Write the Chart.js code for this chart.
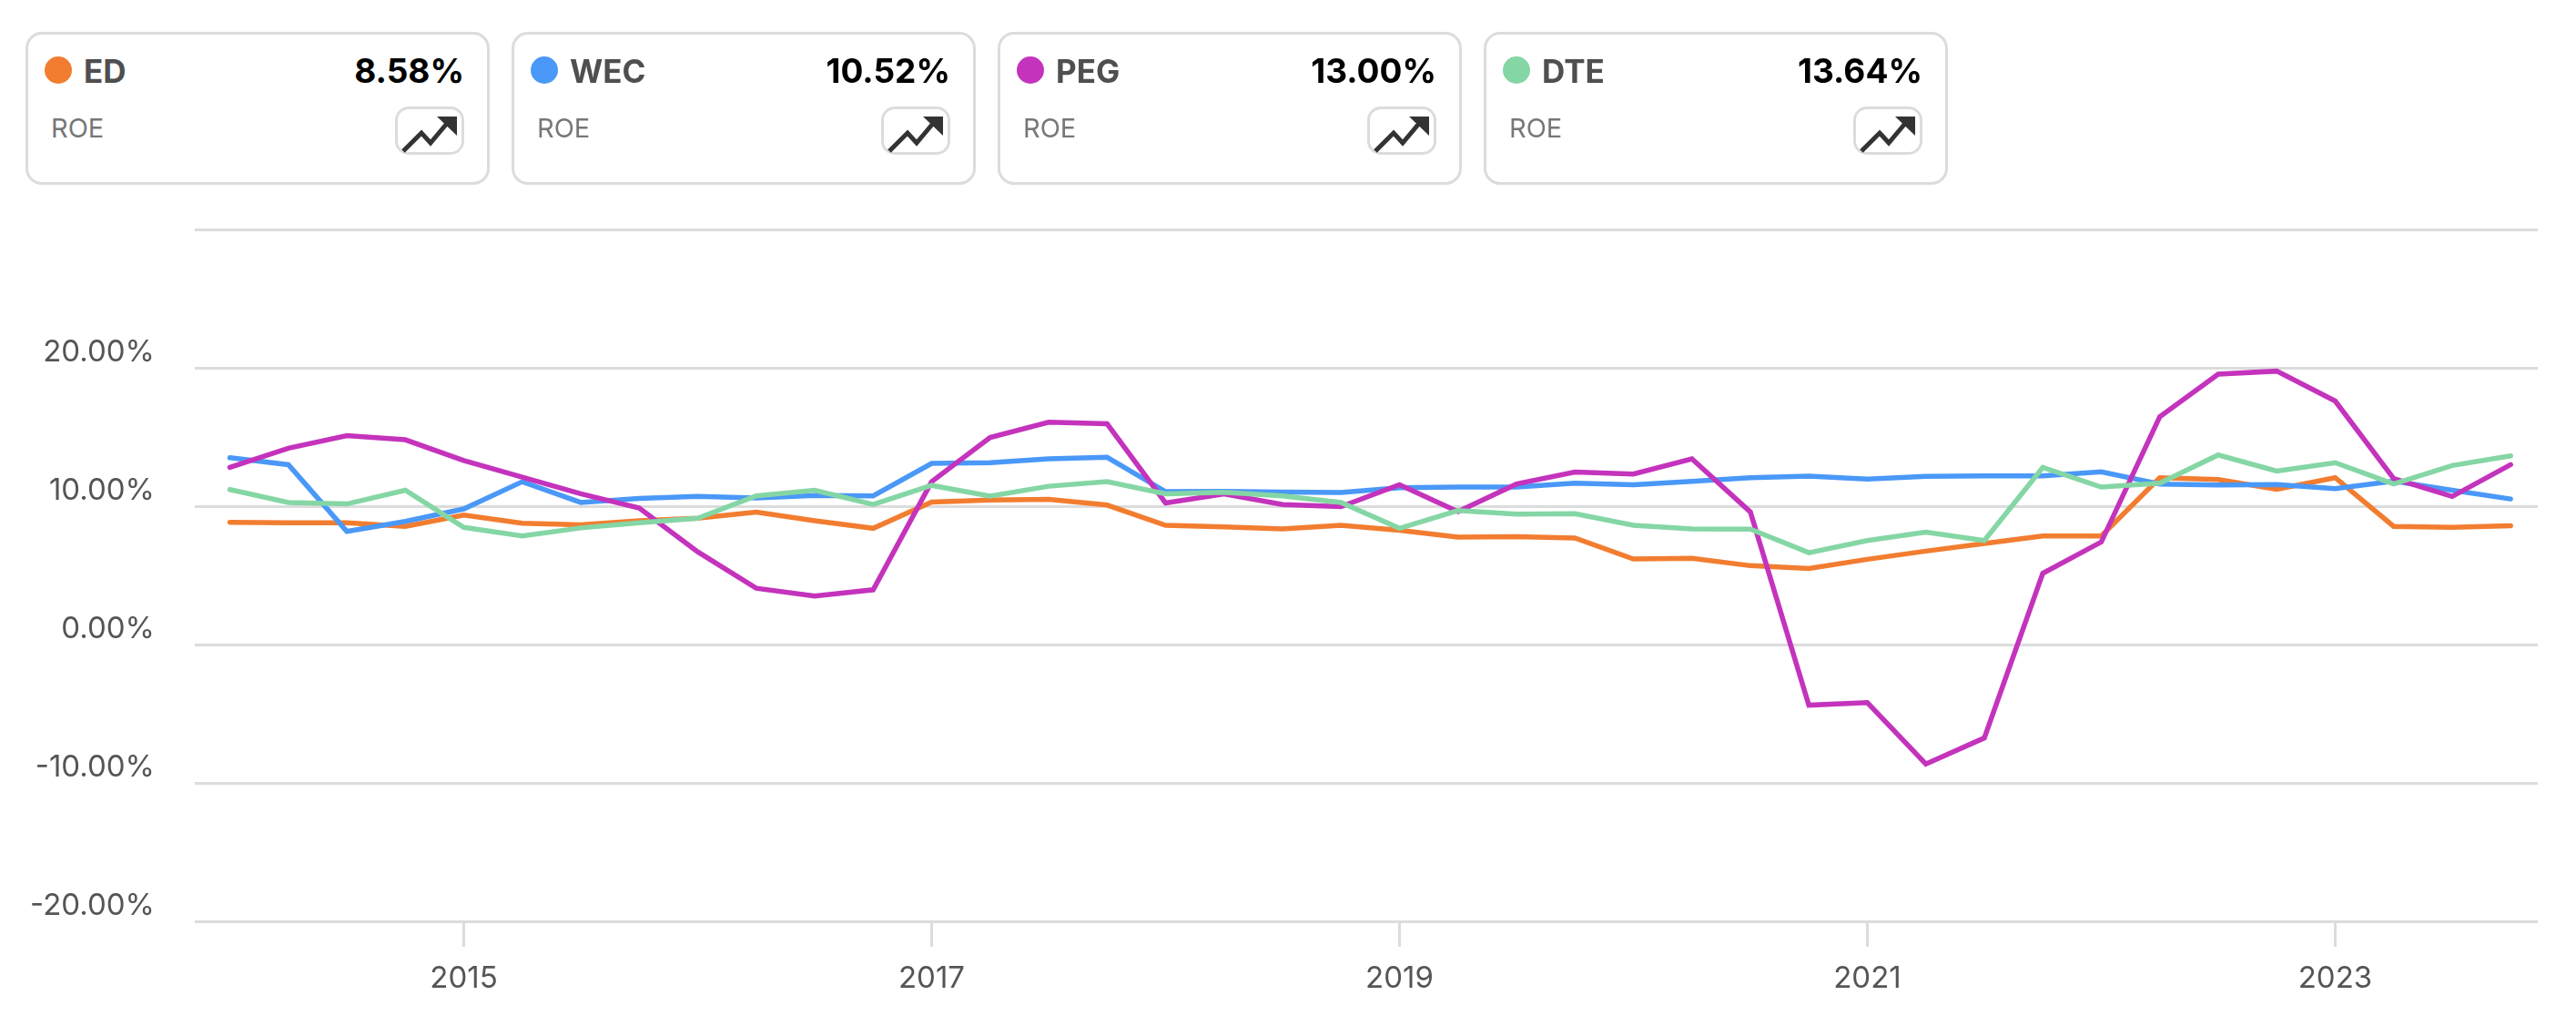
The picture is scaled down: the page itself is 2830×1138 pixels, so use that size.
<!DOCTYPE html>
<html>
<head>
<meta charset="utf-8">
<script src="https://cdn.jsdelivr.net/npm/chart.js@4"></script>
<style>
html,body{margin:0;padding:0;background:#fff;width:2830px;height:1138px;overflow:hidden;font-family:Inter,sans-serif}
#wrap{position:absolute;left:0;top:0;width:2830px;height:1138px}
canvas{position:absolute;left:0;top:0}
.card{position:absolute;top:35px;width:510px;height:168px;box-sizing:border-box;border:3px solid #dcdcdc;border-radius:18px;background:#fff}
.dot{position:absolute;left:18px;top:24px;width:30px;height:30px;border-radius:50%}
.tk{position:absolute;left:61px;top:20px;font-size:35px;line-height:40px;font-weight:700;color:#4f4f4f}
.val{position:absolute;right:25px;top:20px;font-size:37px;line-height:40px;font-weight:700;color:#000}
.roe{position:absolute;left:25px;top:86px;font-size:29px;line-height:34px;color:#777}
.ic{position:absolute;left:403px;top:79px;width:76px;height:53px;box-sizing:border-box;border:3px solid #dcdcdc;border-radius:15px}
.ic svg{position:absolute;left:-3px;top:-3px}
</style>
</head>
<body>
<div id="wrap"><canvas id="c" width="2830" height="1138"></canvas><div id="cards"></div></div>
<script>
const quarters = [2014,2014.25,2014.5,2014.75,2015,2015.25,2015.5,2015.75,2016,2016.25,2016.5,2016.75,2017,2017.25,2017.5,2017.75,2018,2018.25,2018.5,2018.75,2019,2019.25,2019.5,2019.75,2020,2020.25,2020.5,2020.75,2021,2021.25,2021.5,2021.75,2022,2022.25,2022.5,2022.75,2023,2023.25,2023.5,2023.75];
const edValues = [8.84,8.8,8.8,8.54,9.35,8.76,8.65,8.95,9.13,9.57,8.95,8.4,10.3,10.45,10.5,10.08,8.62,8.5,8.36,8.62,8.25,7.77,7.79,7.7,6.18,6.23,5.7,5.49,6.16,6.75,7.3,7.85,7.85,12.06,11.93,11.22,12.06,8.54,8.47,8.58];
const wecValues = [13.5,13.0,8.18,8.9,9.8,11.77,10.27,10.56,10.7,10.6,10.78,10.74,13.09,13.14,13.42,13.53,11.05,11.07,11.02,10.98,11.33,11.38,11.38,11.66,11.55,11.8,12.06,12.17,11.95,12.15,12.19,12.19,12.48,11.6,11.53,11.57,11.27,11.8,11.15,10.52];
const pegValues = [12.8,14.19,15.1,14.8,13.3,12.1,10.9,9.86,6.7,4.07,3.5,3.96,11.77,14.96,16.07,15.95,10.23,10.89,10.12,9.97,11.55,9.6,11.6,12.47,12.32,13.42,9.58,-4.38,-4.2,-8.63,-6.75,5.15,7.41,16.46,19.54,19.76,17.6,12.0,10.7,13.0];
const dteValues = [11.2,10.27,10.16,11.15,8.47,7.85,8.43,8.8,9.13,10.74,11.15,10.12,11.5,10.72,11.44,11.77,10.89,11.0,10.74,10.27,8.4,9.68,9.42,9.46,8.62,8.36,8.34,6.64,7.52,8.12,7.52,12.8,11.38,11.66,13.7,12.54,13.14,11.6,12.94,13.64];
const tickYears = [2015,2017,2019,2021,2023];
const tickValues = [-20,-10,0,10,20,30];
const tickLabels = ['-20.00%','-10.00%','0.00%','10.00%','20.00%',''];
const names = ['ED','WEC','PEG','DTE'];
const colors = ['#F27D30','#4A98F7','#C433BC','#85D6A5'];
const lastValues = ['8.58%','10.52%','13.00%','13.64%'];
const metricName = 'ROE';
const allValues = [edValues,wecValues,pegValues,dteValues];

const cardLefts = [28,562,1096,1630];
const cards = document.getElementById('cards');
names.forEach((n,i)=>{
  const d = document.createElement('div');
  d.className='card'; d.style.left=cardLefts[i]+'px';
  d.innerHTML = `<div class="dot" style="background:${colors[i]}"></div><div class="tk">${n}</div><div class="val">${lastValues[i]}</div><div class="roe">${metricName}</div><div class="ic"><svg width="76" height="53" viewBox="0 0 76 53"><path d="M9 49 L29 29 L39 40 L60 15" fill="none" stroke="#333" stroke-width="5"/><path d="M46 11 L68 11 L68 32 Z" fill="#333"/></svg></div>`;
  cards.appendChild(d);
});

const grid = '#dcdcdc';
new Chart(document.getElementById('c'),{
  type:'line',
  data:{labels:quarters,datasets:names.map((n,i)=>({
    label:n,
    data:quarters.map((q,k)=>({x:q,y:allValues[i][k]})),
    borderColor:colors[i],backgroundColor:colors[i],
    borderWidth:5.5,pointRadius:0,tension:0,fill:false,
    borderCapStyle:'round',borderJoinStyle:'miter',
    order:3-i
  }))},
  options:{
    responsive:false,animation:false,devicePixelRatio:1,
    layout:{padding:{top:252,right:42,left:0,bottom:0}},
    plugins:{legend:{display:false},tooltip:{enabled:false}},
    scales:{
      x:{type:'linear',min:2013.85,max:2023.866,
        afterBuildTicks:a=>{a.ticks=tickYears.map(v=>({value:v}));},
        afterFit:a=>{a.height=126;},
        grid:{display:true,drawOnChartArea:false,drawTicks:true,tickLength:28,tickWidth:3,tickColor:grid},
        border:{display:false},
        ticks:{color:'#555',font:{family:'Inter',size:33},padding:15,maxRotation:0,autoSkip:false,callback:v=>String(v)}},
      y:{min:-20,max:30,
        afterBuildTicks:a=>{a.ticks=tickValues.map(v=>({value:v}));},
        afterFit:a=>{a.width=214;},
        grid:{color:grid,lineWidth:3,drawTicks:false},
        border:{display:false},
        ticks:{color:'#555',font:{family:'Inter',size:33},padding:44,align:'end',autoSkip:false,
          callback:v=>tickLabels[tickValues.indexOf(v)]}}
    }
  }
});
</script>
</body>
</html>
